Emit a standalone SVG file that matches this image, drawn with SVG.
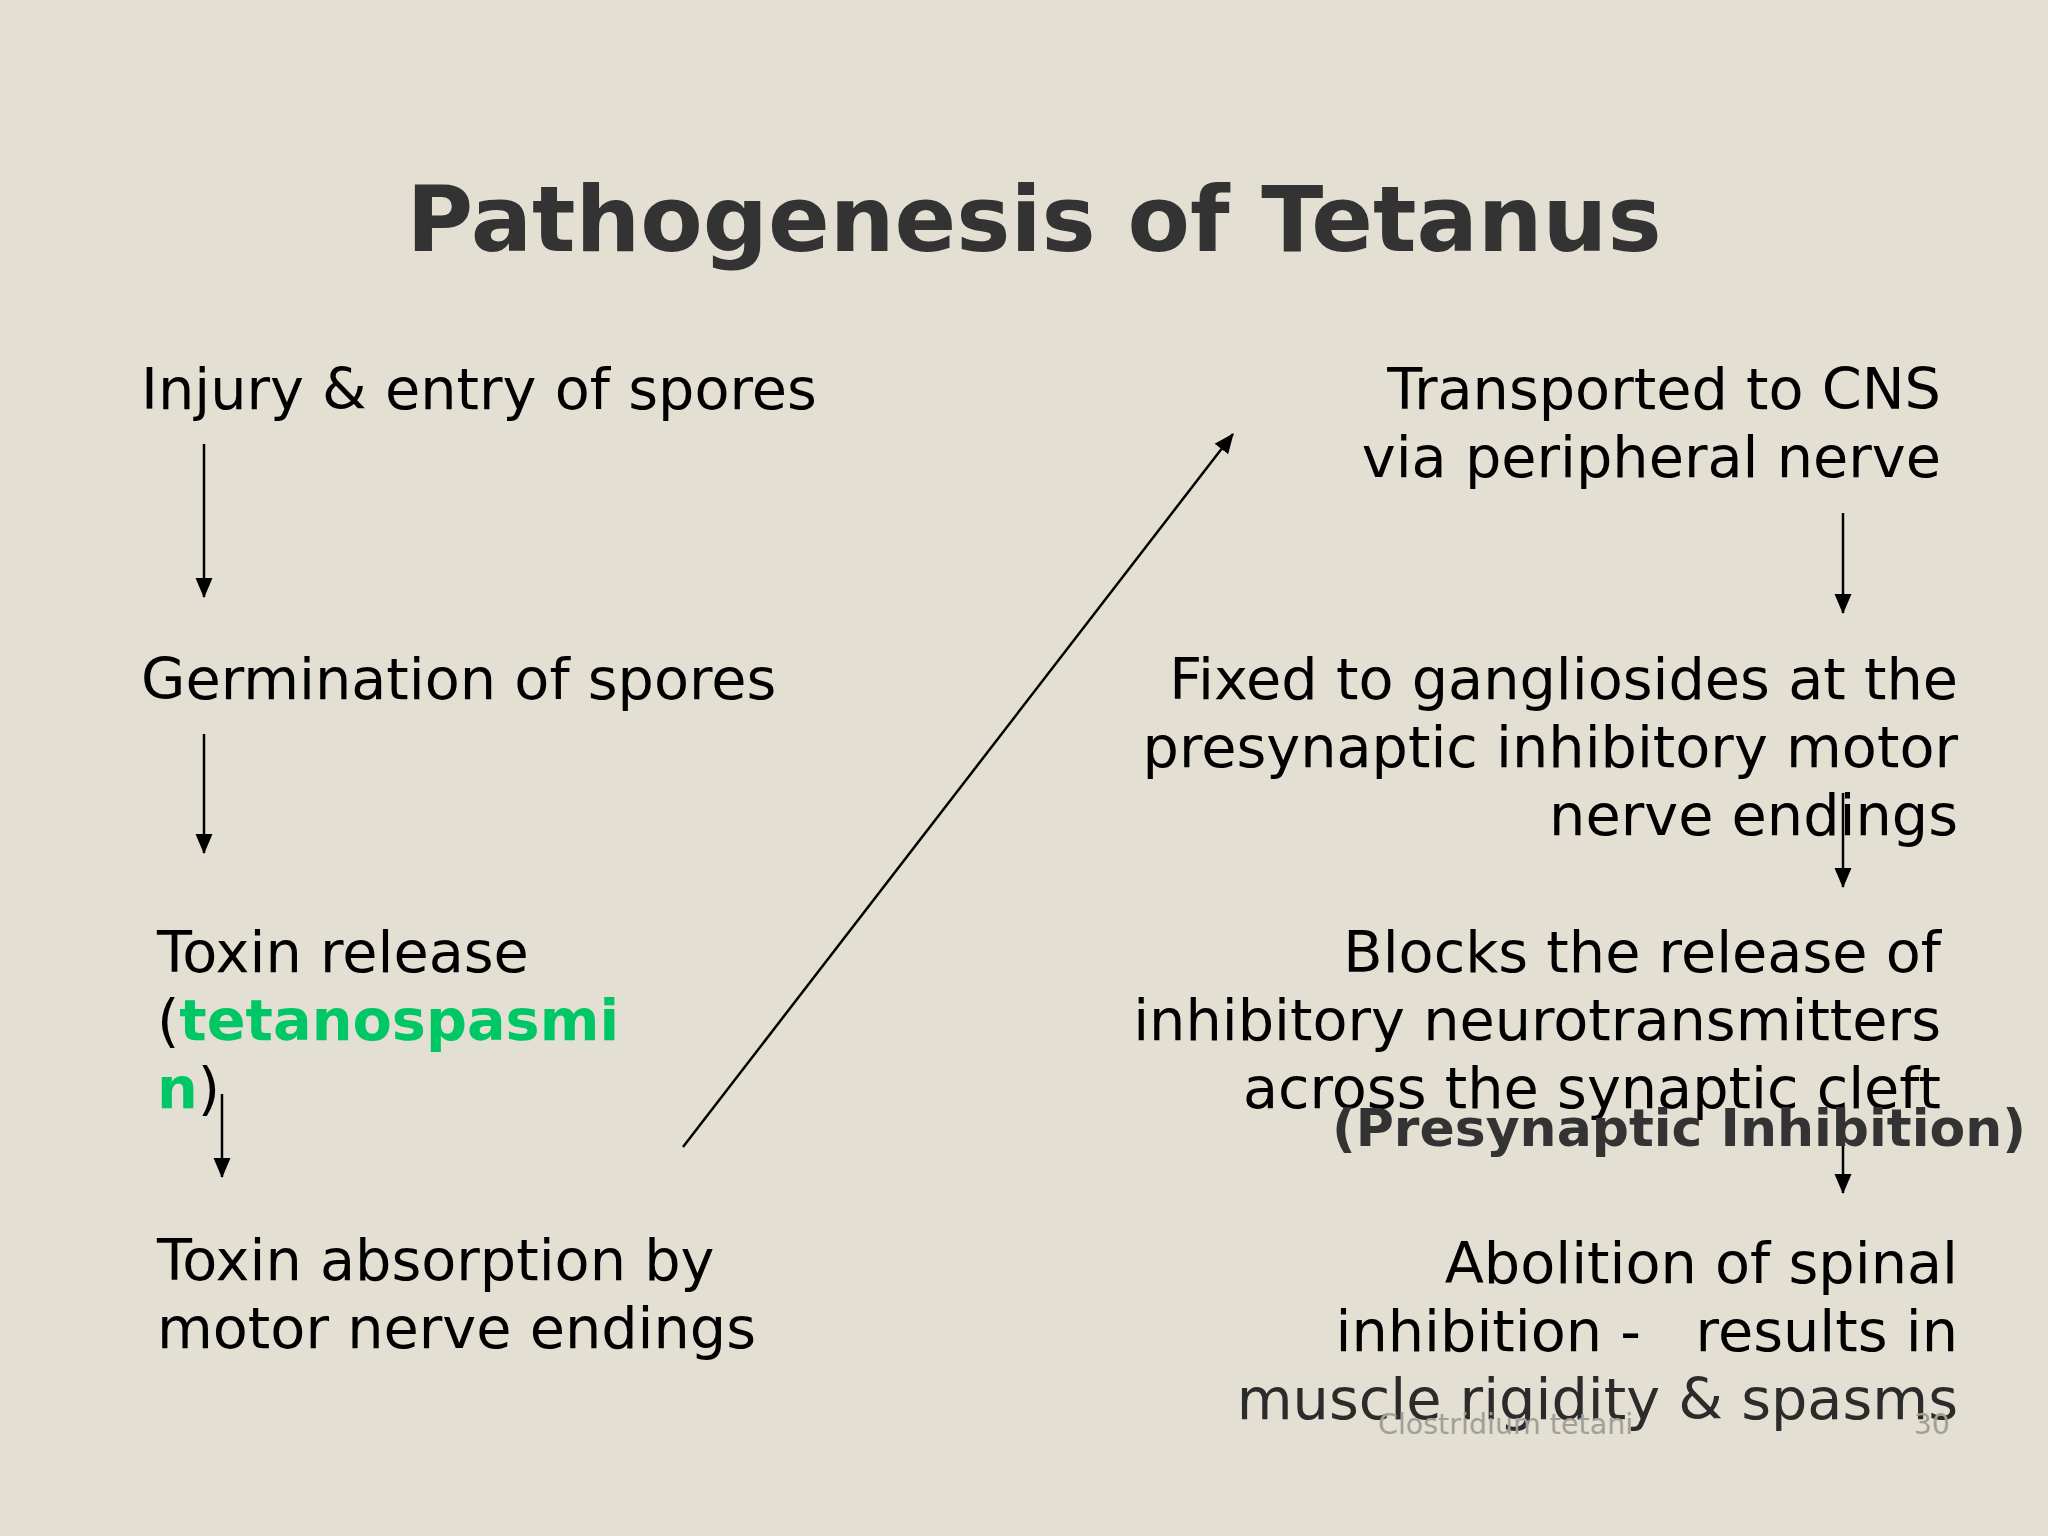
<svg xmlns="http://www.w3.org/2000/svg" width="2048" height="1536" viewBox="0 0 2048 1536">
<defs>
<style>
.t{font-family:"DejaVu Sans","Verdana",sans-serif;font-size:57.3px;fill:#000}
.r{text-anchor:end}
.g{fill:#00C765;font-weight:bold}
.title{font-family:"DejaVu Sans","Verdana",sans-serif;font-size:91px;font-weight:bold;fill:#333333;text-anchor:middle}
.pi{font-family:"DejaVu Sans","Verdana",sans-serif;font-size:52px;font-weight:bold;fill:#333333;text-anchor:end}
.ft{font-family:"DejaVu Sans","Verdana",sans-serif;font-size:28.5px;fill:#A19F96}
.c{stroke:#000;stroke-width:2.5;fill:none;marker-end:url(#ah)}
</style>
<marker id="ah" viewBox="0 0 20 20" refX="19" refY="10" markerWidth="20" markerHeight="20" markerUnits="userSpaceOnUse" orient="auto">
<path d="M0,1.5 L20,10 L0,18.5 z" fill="#000"/>
</marker>
</defs>
<rect x="0" y="0" width="2048" height="1536" fill="#E3DFD2"/>
<text class="title" x="1034" y="251">Pathogenesis of Tetanus</text>

<g id="connectors">
<line class="c" x1="204" y1="444" x2="204" y2="597"/>
<line class="c" x1="204" y1="734" x2="204" y2="853"/>
<line class="c" x1="222" y1="1094" x2="222" y2="1177"/>
<line class="c" x1="683" y1="1147" x2="1233" y2="434"/>
<line class="c" x1="1843" y1="513" x2="1843" y2="613"/>
<line class="c" x1="1843" y1="793" x2="1843" y2="887"/>
<line class="c" x1="1843" y1="1108" x2="1843" y2="1193"/>
</g>

<g id="n1"><text class="t" x="141" y="409">Injury &amp; entry of spores</text></g>
<g id="n2"><text class="t" x="141" y="699">Germination of spores</text></g>
<g id="n3">
<text class="t" x="157" y="972">Toxin release</text>
<text class="t" x="157" y="1040">(<tspan class="g">tetanospasmi</tspan></text>
<text class="t" x="157" y="1108"><tspan class="g">n</tspan>)</text>
</g>
<g id="n4">
<text class="t" x="157" y="1280">Toxin absorption by</text>
<text class="t" x="157" y="1348">motor nerve endings</text>
</g>
<g id="n5">
<text class="t r" x="1941" y="409">Transported to CNS</text>
<text class="t r" x="1941" y="477">via peripheral nerve</text>
</g>
<g id="n6">
<text class="t r" x="1958" y="699">Fixed to gangliosides at the</text>
<text class="t r" x="1958" y="767">presynaptic inhibitory motor</text>
<text class="t r" x="1958" y="835">nerve endings</text>
</g>
<g id="n7">
<text class="t r" x="1941" y="972">Blocks the release of</text>
<text class="t r" x="1941" y="1040">inhibitory neurotransmitters</text>
<text class="t r" x="1941" y="1108">across the synaptic cleft</text>
<text class="pi" x="2026" y="1146">(Presynaptic Inhibition)</text>
</g>
<g id="n8">
<text class="t r" x="1958" y="1283">Abolition of spinal</text>
<text class="t r" x="1958" y="1351" xml:space="preserve">inhibition -   results in</text>
<text class="t r" x="1958" y="1419" style="fill:#2B2B2B">muscle rigidity &amp; spasms</text>
</g>
<g id="footer">
<text class="ft" x="1378" y="1434">Clostridium tetani</text>
<text class="ft" x="1950" y="1434" text-anchor="end">30</text>
</g>
</svg>
